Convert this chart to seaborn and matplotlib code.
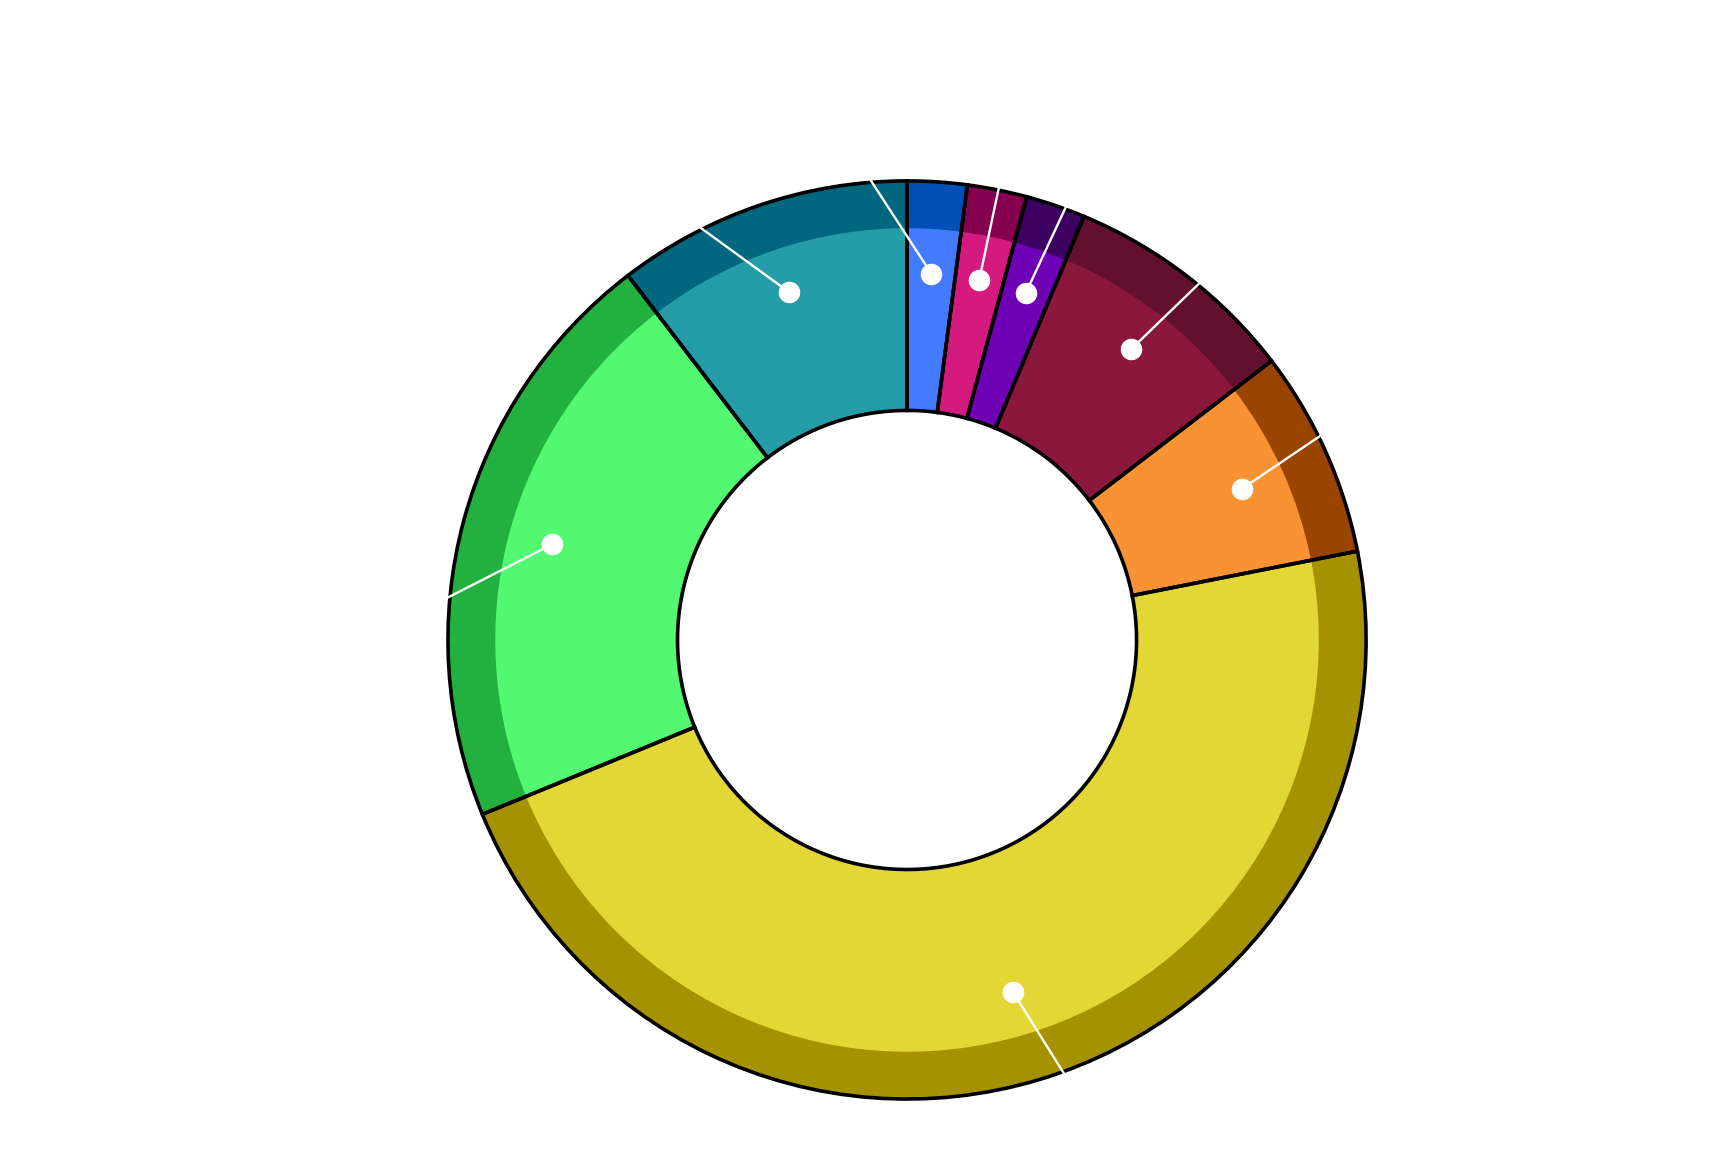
import numpy as np
import matplotlib
matplotlib.use("Agg")
import matplotlib.pyplot as plt
import seaborn as sns

# Slice shares (percent), clockwise from 12 o'clock
shares = [2.1, 2.1, 2.1, 8.3, 7.3, 46.9, 20.8, 10.4]
light_colors = ["#427BFF", "#D41A7E", "#6E00B6", "#8B173D",
                "#F99232", "#E3D735", "#52F870", "#259DA8"]
dark_colors = ["#0050B8", "#85004E", "#3B0060", "#62102D",
               "#994500", "#A59200", "#22B03E", "#00677F"]
# direction of each leader line (degrees, clockwise from top)
leader_dirs = [327, 12, 25, 46, 56, 148, 243, 306]

sns.set_theme(style="white")

fig = plt.figure(figsize=(17.3, 11.76), dpi=100)
ax = fig.add_axes([0.2324, 0.0264, 0.5838, 0.8588])

inner = 0.5
light_r = 0.897

# dark outer band
ax.pie(shares, colors=dark_colors, radius=1.0, startangle=90, counterclock=False,
       wedgeprops=dict(width=1.0 - inner, linewidth=0))
# lighter main band
ax.pie(shares, colors=light_colors, radius=light_r, startangle=90, counterclock=False,
       wedgeprops=dict(width=light_r - inner, linewidth=0))
# black outlines on top
ax.pie(shares, colors=["none"] * len(shares), radius=1.0, startangle=90, counterclock=False,
       wedgeprops=dict(width=1.0 - inner, linewidth=2.6, edgecolor="black", fill=False))

# dots and leader lines (labels are white on white, so only marks show)
frac = np.array(shares) / sum(shares)
mids = np.cumsum(frac) - frac / 2
dot_r = 0.8
for m, d in zip(mids, leader_dirs):
    th = np.deg2rad(90 - m * 360)
    x0, y0 = dot_r * np.cos(th), dot_r * np.sin(th)
    dth = np.deg2rad(90 - d)
    x1, y1 = x0 + 0.5 * np.cos(dth), y0 + 0.5 * np.sin(dth)
    ax.plot([x0, x1], [y0, y1], color="white", lw=1.7, zorder=5, solid_capstyle="butt")
    ax.plot(x0, y0, "o", color="white", markersize=14.5, zorder=6)

ax.set_xlim(-1.1, 1.1)
ax.set_ylim(-1.1, 1.1)
ax.set_aspect("equal")
ax.axis("off")

fig.savefig("out.png", dpi=100, facecolor="white")
